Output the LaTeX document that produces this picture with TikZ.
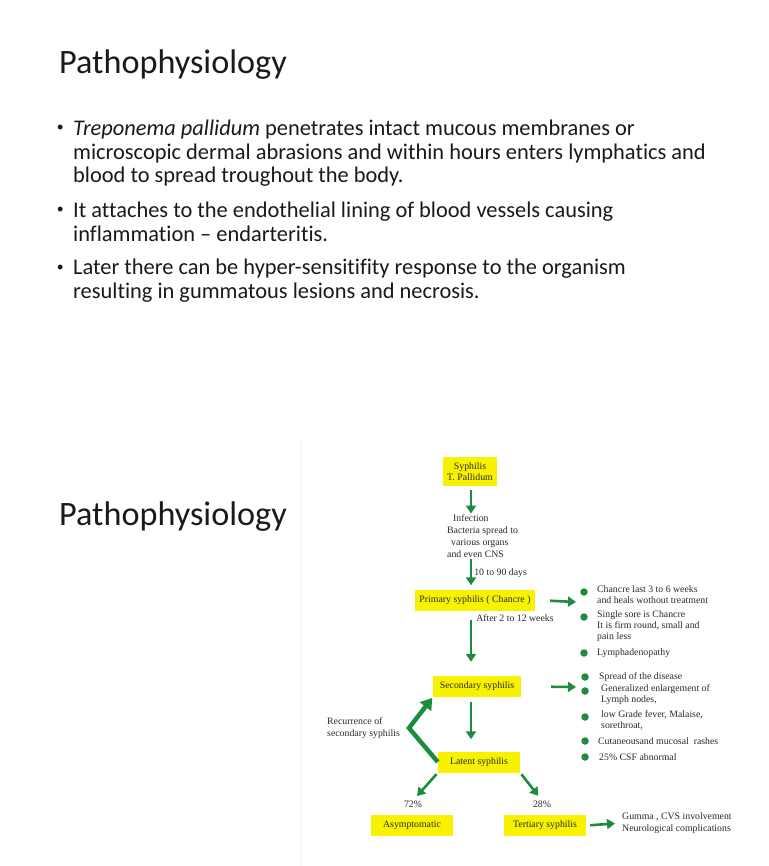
\documentclass[tikz,border=0pt]{standalone}
\usepackage{fontspec}
\setmainfont{Carlito}[Ligatures={NoCommon}]
\newfontfamily\chartfont{Liberation Serif}
\newfontfamily\bulletfont{Liberation Sans}
\usetikzlibrary{
  arrows.meta,
  positioning
}
\definecolor{slideink}{HTML}{1A1A1A}
\definecolor{chartink}{HTML}{2A2A2A}
\definecolor{chartyellow}{HTML}{F8F200}
\definecolor{chartgreen}{HTML}{1E8C3E}
\definecolor{edgegray}{HTML}{F4F4F4}

\begin{document}
\begin{tikzpicture}[
      x=1pt, y=-1pt,
      slidetitle/.style={
        anchor=west, inner sep=0pt,
        font=\fontsize{34.2}{40}\selectfont, text=slideink
      },
      bullettext/.style={
        anchor=north west, inner sep=0pt, align=left,
        font=\fontsize{22.4}{23.8}\selectfont, text=slideink
      },
      bulletmark/.style={
        anchor=base west, inner sep=0pt,
        font=\bulletfont\fontsize{18}{20}\selectfont, text=slideink
      },
      stage/.style={
        rectangle, fill=chartyellow, inner sep=1pt,
        minimum width=82pt, minimum height=21pt,
        font=\chartfont\fontsize{9.8}{11.4}\selectfont, text=chartink, align=center
      },
      note/.style={
        inner sep=0pt, align=left,
        font=\chartfont\fontsize{9.8}{11.4}\selectfont, text=chartink
      },
      point/.style={circle, fill=chartgreen, inner sep=0pt, minimum size=7.5pt},
      flow/.style={-{Triangle[length=8pt,width=10pt]}, line width=2.6pt, chartgreen},
      backflow/.style={-{Triangle[length=11pt,width=14pt]}, line width=4.5pt, chartgreen}
    ]
      \useasboundingbox[fill=white] (0,0) rectangle (768,866);

      % first slide
      \node[slidetitle] (title1) at (59,65) {Pathophysiology};
      \node[bulletmark] (dot1) at (57,134) {•};
      \node[bullettext] (item1) at (73,119.5) {\textit{Treponema pallidum} penetrates intact mucous membranes or\\
        microscopic dermal abrasions and within hours enters lymphatics and\\
        blood to spread troughout the body.};
      \node[bulletmark] (dot2) at (57,216) {•};
      \node[bullettext] (item2) at (73,201.5) {It attaches to the endothelial lining of blood vessels causing\\
        inflammation -- endarteritis.};
      \node[bulletmark] (dot3) at (57,273) {•};
      \node[bullettext] (item3) at (73,258.5) {Later there can be hyper-sensitifity response to the organism\\
        resulting in gummatous lesions and necrosis.};

      % second slide
      \node[slidetitle] (title2) at (59,517) {Pathophysiology};
      \draw[edgegray, line width=1pt] (301,440) -- (301,866);

      \coordinate (spine) at (471,0);
      \node[stage, minimum width=54pt, minimum height=29pt] (agent) at (470,471.5) {Syphilis\\T. Pallidum};
      \node[note, anchor=north west, font=\chartfont\fontsize{9.8}{11.8}\selectfont] (infection) at (447,514.5) {\hspace*{6pt}Infection\\
        Bacteria spread to\\\hspace*{4pt}various organs\\and even CNS};
      \node[stage, minimum width=120pt] (primary) at (475,600) {Primary syphilis ( Chancre )};
      \node[stage, minimum width=88pt] (secondary) at (477,686.5) {Secondary syphilis};
      \node[stage] (latent) at (479,762) {Latent syphilis};
      \node[note] (pct72) at (413,804) {72\%};
      \node[note] (pct28) at (542,804) {28\%};
      \node[stage] (asympt) at (412,825.5) {Asymptomatic};
      \node[stage] (tertiary) at (545,825.5) {Tertiary syphilis};
      \node[note, anchor=west] (recurrence) at (327,728) {Recurrence of\\secondary syphilis};
      \node[note, anchor=west] (late) at (622,823) {Gumma , CVS involvement\\Neurological complications};

      % signs of the primary stage
      \node[point] (pa) at (584,592) {};
      \node[point] (pb) at (584,617) {};
      \node[point] (pc) at (584,653) {};
      \node[note, anchor=north west] at (597,585) {Chancre last 3 to 6 weeks\\and heals wothout treatment};
      \node[note, anchor=north west] at (597,610) {Single sore is Chancre\\It is firm round, small and\\pain less};
      \node[note, anchor=west] at (597,653) {Lymphadenopathy};

      % signs of the secondary stage
      \node[point] (sa) at (585,677) {};
      \node[point] (sb) at (585,691) {};
      \node[point] (sc) at (585,717) {};
      \node[point] (sd) at (585,741) {};
      \node[point] (se) at (585,757) {};
      \node[note, anchor=west] at (599,677) {Spread of the disease};
      \node[note, anchor=north west] at (601,684) {Generalized enlargement of\\Lymph nodes,};
      \node[note, anchor=north west] at (601,710) {low Grade fever, Malaise,\\sorethroat,};
      \node[note, anchor=west] at (598,741) {Cutaneousand mucosal~~rashes};
      \node[note, anchor=west] at (599,757) {25\% CSF abnormal};

      \coordinate (primout) at (576,602);
      \coordinate (secout) at (576,687);
      \coordinate (bend) at (409,728);

      \draw[flow, shorten <=4pt, shorten >=1pt] (agent.south -| spine) -- (infection.north -| spine);
      \draw[flow, shorten <=2pt, shorten >=4pt] (infection.south -| spine) -- (primary.north -| spine)
        node[note, midway, right=2pt] {10 to 90 days};
      \draw[flow, shorten <=9pt, shorten >=14pt] (primary.south -| spine) -- (secondary.north -| spine)
        node[note, pos=0.12, right=4pt] {After 2 to 12 weeks};
      \draw[flow, shorten <=5pt, shorten >=12pt] (secondary.south -| spine) -- (latent.north -| spine);
      \draw[flow, shorten <=15pt] (primary.east) -- (primout);
      \draw[flow, shorten <=30pt] (secondary.east) -- (secout);
      \draw[backflow, line join=miter, shorten >=1pt] (latent.west) -- (bend) -- (secondary.south west);
      \draw[flow, shorten <=2pt, shorten >=6pt] (latent.south west) -- (pct72.north);
      \draw[flow, shorten <=2pt, shorten >=6pt] (latent.south east) -- (pct28.north);
      \draw[flow, shorten <=4pt, shorten >=7pt] (tertiary.east) -- (late.west);
    \end{tikzpicture}
\end{document}
